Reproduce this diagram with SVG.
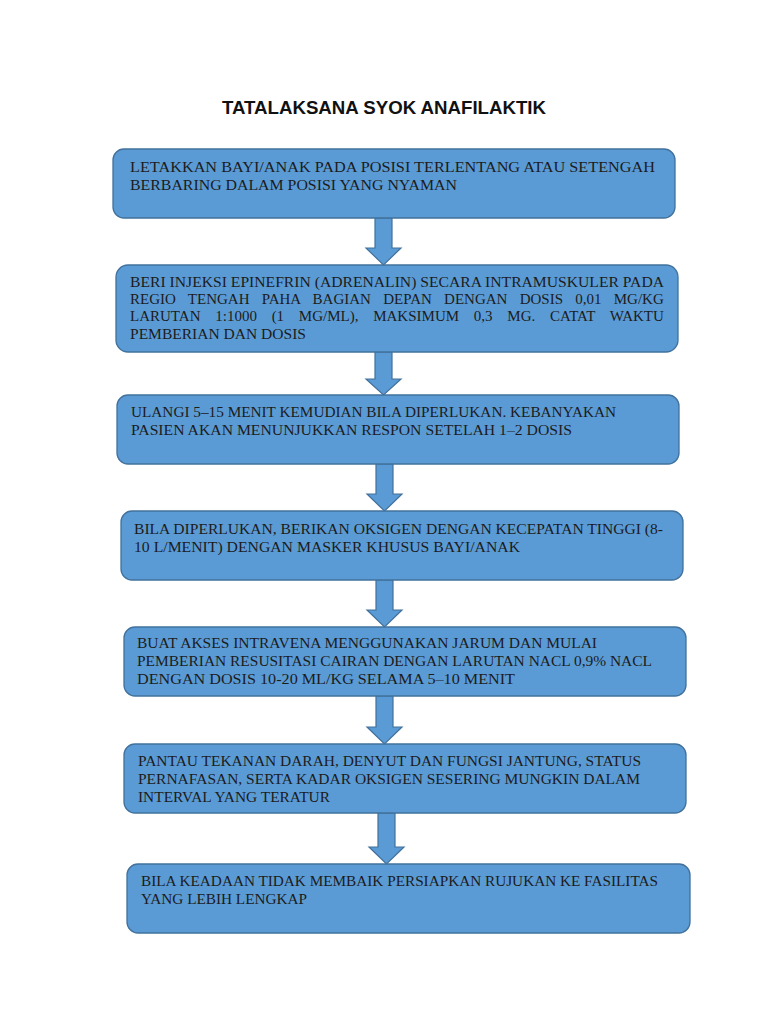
<svg xmlns="http://www.w3.org/2000/svg" width="768" height="1024" viewBox="0 0 768 1024">
<style>
.box{fill:#5B9BD5;stroke:#41719C;stroke-width:1.3}
.arr{fill:#5B9BD5;stroke:#41719C;stroke-width:1.2}
.t{font-family:"Liberation Serif","DejaVu Serif",serif;font-size:15px;fill:#1c1c1c}
.title{font-family:"Liberation Sans","Open Sans",sans-serif;font-size:18.5px;font-weight:bold;fill:#111}
</style>
<rect width="768" height="1024" fill="#ffffff"/>
<text class="title" x="384" y="114" text-anchor="middle" textLength="324" lengthAdjust="spacingAndGlyphs">TATALAKSANA SYOK ANAFILAKTIK</text>
<g id="connectors">
<path class="arr" d="M375,218 H392 V248 H401 L383.5,265 L366,248 H375 Z"/>
<path class="arr" d="M375,352 H392 V379 H401 L383.5,395 L366,379 H375 Z"/>
<path class="arr" d="M376,464 H393 V494 H402 L384.5,511 L367,494 H376 Z"/>
<path class="arr" d="M376,580 H393 V610 H402 L384.5,627 L367,610 H376 Z"/>
<path class="arr" d="M376,696 H393 V727 H402 L384.5,744 L367,727 H376 Z"/>
<path class="arr" d="M378,813 H395 V847 H404 L386.5,864 L369,847 H378 Z"/>
</g>
<g id="node1">
<rect class="box" x="113" y="149" width="562" height="69" rx="11"/>
<text class="t" x="130" y="172" textLength="525" lengthAdjust="spacingAndGlyphs">LETAKKAN BAYI/ANAK PADA POSISI TERLENTANG ATAU SETENGAH</text>
<text class="t" x="130" y="190" textLength="327" lengthAdjust="spacingAndGlyphs">BERBARING DALAM POSISI YANG NYAMAN</text>
</g>
<g id="node2">
<rect class="box" x="116" y="265" width="562" height="87" rx="12"/>
<text class="t" x="130" y="287" textLength="534" lengthAdjust="spacingAndGlyphs">BERI INJEKSI EPINEFRIN (ADRENALIN) SECARA INTRAMUSKULER PADA</text>
<text class="t" x="130" y="304" word-spacing="8.5">REGIO TENGAH PAHA BAGIAN DEPAN DENGAN DOSIS 0,01 MG/KG</text>
<text class="t" x="130" y="321" word-spacing="11">LARUTAN 1:1000 (1 MG/ML), MAKSIMUM 0,3 MG. CATAT WAKTU</text>
<text class="t" x="130" y="339" textLength="176" lengthAdjust="spacingAndGlyphs">PEMBERIAN DAN DOSIS</text>
</g>
<g id="node3">
<rect class="box" x="117" y="395" width="562" height="69" rx="11"/>
<text class="t" x="131" y="417" textLength="485" lengthAdjust="spacingAndGlyphs">ULANGI 5–15 MENIT KEMUDIAN BILA DIPERLUKAN. KEBANYAKAN</text>
<text class="t" x="131" y="435" textLength="441" lengthAdjust="spacingAndGlyphs">PASIEN AKAN MENUNJUKKAN RESPON SETELAH 1–2 DOSIS</text>
</g>
<g id="node4">
<rect class="box" x="121" y="511" width="562" height="69" rx="11"/>
<text class="t" x="134" y="534" textLength="529" lengthAdjust="spacingAndGlyphs">BILA DIPERLUKAN, BERIKAN OKSIGEN DENGAN KECEPATAN TINGGI (8-</text>
<text class="t" x="134" y="552" textLength="386" lengthAdjust="spacingAndGlyphs">10 L/MENIT) DENGAN MASKER KHUSUS BAYI/ANAK</text>
</g>
<g id="node5">
<rect class="box" x="124" y="627" width="562" height="69" rx="11"/>
<text class="t" x="137" y="648" textLength="460" lengthAdjust="spacingAndGlyphs">BUAT AKSES INTRAVENA MENGGUNAKAN JARUM DAN MULAI</text>
<text class="t" x="137" y="666" textLength="515" lengthAdjust="spacingAndGlyphs">PEMBERIAN RESUSITASI CAIRAN DENGAN LARUTAN NACL 0,9% NACL</text>
<text class="t" x="137" y="684" textLength="378" lengthAdjust="spacingAndGlyphs">DENGAN DOSIS 10-20 ML/KG SELAMA 5–10 MENIT</text>
</g>
<g id="node6">
<rect class="box" x="124" y="744" width="562" height="69" rx="11"/>
<text class="t" x="138" y="766" textLength="503" lengthAdjust="spacingAndGlyphs">PANTAU TEKANAN DARAH, DENYUT DAN FUNGSI JANTUNG, STATUS</text>
<text class="t" x="138" y="784" textLength="502" lengthAdjust="spacingAndGlyphs">PERNAFASAN, SERTA KADAR OKSIGEN SESERING MUNGKIN DALAM</text>
<text class="t" x="138" y="802" textLength="192" lengthAdjust="spacingAndGlyphs">INTERVAL YANG TERATUR</text>
</g>
<g id="node7">
<rect class="box" x="127" y="864" width="563" height="69" rx="11"/>
<text class="t" x="141" y="886" textLength="517" lengthAdjust="spacingAndGlyphs">BILA KEADAAN TIDAK MEMBAIK PERSIAPKAN RUJUKAN KE FASILITAS</text>
<text class="t" x="141" y="904" textLength="166" lengthAdjust="spacingAndGlyphs">YANG LEBIH LENGKAP</text>
</g>
</svg>
